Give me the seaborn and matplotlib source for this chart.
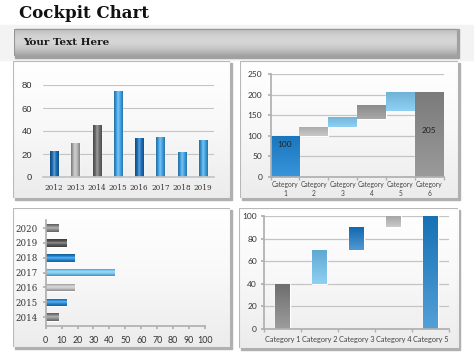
import numpy as np
import matplotlib
matplotlib.use("Agg")
import matplotlib.pyplot as plt
import seaborn as sns
from matplotlib.colors import LinearSegmentedColormap, to_rgb
from matplotlib.patches import Rectangle

# ---------------- data ----------------
years_top = ["2012", "2013", "2014", "2015", "2016", "2017", "2018", "2019"]
values_top = [23, 30, 45, 75, 34, 35, 22, 32]
colors_top = ["#1b6fb8", "#b8b8b8", "#6e6e6e", "#3fa7ea", "#1a72bf",
              "#3ea3e6", "#3ea3e6", "#3ea3e6"]

wf_categories = ["Category\n1", "Category\n2", "Category\n3",
                 "Category\n4", "Category\n5", "Category\n6"]
wf_bottom = [0, 100, 120, 140, 160, 0]
wf_top = [100, 120, 145, 175, 205, 205]
wf_colors = ["#1e86d6", "#c2c2c2", "#80caf4", "#9c9c9c", "#80caf4", "#8c8c8c"]
wf_label_text = ["100", "", "", "", "", "205"]
wf_label_y = [78, 0, 0, 0, 0, 112]

hb_years = ["2020", "2019", "2018", "2017", "2016", "2015", "2014"]
hb_values = [8, 13, 18, 43, 18, 13, 8]
hb_colors = ["#8c8c8c", "#5a5a5a", "#1e88d8", "#74c6f2", "#c4c4c4", "#1e88d8", "#8c8c8c"]

fl_categories = ["Category 1", "Category 2", "Category 3", "Category 4", "Category 5"]
fl_bottom = [0, 40, 70, 90, 0]
fl_top = [40, 70, 90, 100, 100]
fl_colors = ["#7c7c7c", "#6cc0f0", "#1676c6", "#b8b8b8", "#1a80cc"]

# ---------------- helpers ----------------
W, H = 474, 355


def box(x0, y0, x1, y1):
    return [x0 / W, 1 - y1 / H, (x1 - x0) / W, (y1 - y0) / H]


def mix(c, t, amt):
    c = np.array(to_rgb(c)); t = np.array(to_rgb(t))
    return tuple(c * (1 - amt) + t * amt)


def grad_patch(ax, patch, stops, along="y"):
    x0, y0 = patch.get_x(), patch.get_y()
    w, h = patch.get_width(), patch.get_height()
    cmap = LinearSegmentedColormap.from_list("g", stops)
    v = np.linspace(0, 1, 64)
    arr = v.reshape(-1, 1) if along == "y" else v.reshape(1, -1)
    im = ax.imshow(arr, cmap=cmap, extent=[x0, x0 + w, y0, y0 + h], origin="lower",
                   aspect="auto", interpolation="bilinear", zorder=patch.get_zorder() + 0.1)
    im.set_clip_path(patch)


def cylinder_stops(c):
    return [(0, mix(c, "black", 0.35)), (0.3, c), (0.45, mix(c, "white", 0.35)),
            (0.7, c), (1, mix(c, "black", 0.3))]


sns.set_theme(style="white")
plt.rcParams["font.family"] = ["Liberation Sans", "DejaVu Sans"]

fig = plt.figure(figsize=(4.74, 3.55), dpi=100, facecolor="white")

# header strip + title
fig.add_artist(Rectangle((0, 1 - 60 / H), 1, 35 / H, transform=fig.transFigure,
                         color="#f3f3f3", zorder=-5))
fig.text(19 / W, 1 - 14 / H, "Cockpit Chart", fontsize=12, fontweight="bold",
         family="DejaVu Serif", va="center", ha="left", color="#111111")

# banner
fig.add_artist(Rectangle((15 / W, 1 - 57.5 / H), 444 / W, 28 / H, transform=fig.transFigure,
                         color="#a0a0a0", zorder=-1))
bax = fig.add_axes(box(14, 29, 457, 56), zorder=0)
gb = LinearSegmentedColormap.from_list("b", ["#a2a2a2", "#c4c4c4", "#d6d6d6", "#d2d2d2", "#bdbdbd"])
bax.imshow(np.linspace(0, 1, 64).reshape(-1, 1), cmap=gb, aspect="auto", extent=[0, 1, 0, 1],
           origin="lower")
bax.set_xlim(0, 1); bax.set_ylim(0, 1); bax.axis("off")
bax.add_patch(Rectangle((0, 0), 1, 1, fill=False, edgecolor="#969696", lw=0.8,
                        transform=bax.transAxes))
bax.text(0.02, 0.5, "Your Text Here", fontsize=7.5, fontweight="bold", family="DejaVu Serif",
         va="center", ha="left", color="#1a1a1a")

# panels
panel_boxes = [(13, 61, 230, 198), (240, 61, 458, 198), (13, 208, 230, 347), (239, 208, 458, 348)]
gp = LinearSegmentedColormap.from_list("p", ["#ececec", "#f8f8f8", "#ffffff"])
for (x0, y0, x1, y1) in panel_boxes:
    fig.add_artist(Rectangle(((x0 + 2) / W, 1 - (y1 + 2) / H), (x1 - x0) / W, (y1 - y0) / H,
                             transform=fig.transFigure, color="#b0b0b0", zorder=-1))
    pax = fig.add_axes(box(x0, y0, x1, y1), zorder=0)
    pax.imshow(np.linspace(0, 1, 64).reshape(-1, 1), cmap=gp, aspect="auto",
               extent=[0, 1, 0, 1], origin="lower")
    pax.set_xlim(0, 1); pax.set_ylim(0, 1); pax.axis("off")
    pax.add_patch(Rectangle((0, 0), 1, 1, fill=False, edgecolor="#b8b8b8", lw=0.8,
                            transform=pax.transAxes))

grid_c = "#c4c4c4"
lab_c = "#333333"
cat_font = "Lato"

# ---------- top-left: cylinder columns ----------
ax1 = fig.add_axes(box(43.4, 85, 213.6, 177), zorder=1)
ax1.patch.set_alpha(0)
sns.barplot(x=years_top, y=values_top, hue=years_top, palette=colors_top, width=0.38,
            legend=False, ax=ax1, saturation=1, zorder=2)
for p, c in zip(ax1.patches, colors_top):
    grad_patch(ax1, p, cylinder_stops(c), along="x")
ax1.set_xlim(-0.5, len(years_top) - 0.5)
ax1.set_ylim(0, 80)
ax1.set_yticks([0, 20, 40, 60, 80])
ax1.yaxis.grid(True, color=grid_c, lw=0.8)
ax1.set_axisbelow(True)
for s in ["top", "right", "left"]:
    ax1.spines[s].set_visible(False)
ax1.spines["bottom"].set_color(grid_c)
ax1.tick_params(axis="y", length=0, pad=8, labelsize=6.8, labelcolor=lab_c)
ax1.tick_params(axis="x", length=0, pad=5, labelsize=5.2, labelcolor=lab_c)
for t in ax1.get_xticklabels():
    t.set_family("DejaVu Serif")
ax1.set_xlabel(""); ax1.set_ylabel("")

# ---------- top-right: waterfall ----------
ax2 = fig.add_axes(box(270.5, 74, 443.5, 176.7), zorder=1)
ax2.patch.set_alpha(0)
wf_heights = [t - b for t, b in zip(wf_top, wf_bottom)]
sns.barplot(x=wf_categories, y=wf_heights, hue=wf_categories, palette=wf_colors, width=1.0,
            legend=False, ax=ax2, saturation=1, zorder=2)
for p, b, c in zip(ax2.patches, wf_bottom, wf_colors):
    p.set_y(b)
    grad_patch(ax2, p, [mix(c, "white", 0.12), mix(c, "black", 0.12)], along="y")
for i, (txt, y) in enumerate(zip(wf_label_text, wf_label_y)):
    if txt:
        ax2.text(i, y, txt, ha="center", va="center", fontsize=6, color="#222222", zorder=5,
                 family=cat_font)
ax2.set_xlim(-0.5, len(wf_categories) - 0.5)
ax2.set_ylim(0, 250)
ax2.set_yticks(range(0, 251, 50))
ax2.yaxis.grid(True, color=grid_c, lw=0.9)
ax2.set_axisbelow(True)
for s in ["top", "right"]:
    ax2.spines[s].set_visible(False)
ax2.spines["left"].set_color("#b0b0b0")
ax2.spines["bottom"].set_color("#b0b0b0")
ax2.set_xticks(np.arange(-0.5, len(wf_categories), 1.0), minor=True)
ax2.tick_params(axis="x", which="minor", length=2.5, color="#b0b0b0", bottom=True)
ax2.tick_params(axis="x", which="major", length=0, pad=3, labelsize=4.8, labelcolor="#444444")
ax2.tick_params(axis="y", length=2, color="#b0b0b0", left=True, pad=4, labelsize=6,
                labelcolor=lab_c)
for t in ax2.get_xticklabels():
    t.set_linespacing(1.4)
    t.set_family(cat_font)
for t in ax2.get_yticklabels():
    t.set_family(cat_font)
ax2.set_xlabel(""); ax2.set_ylabel("")

# ---------- bottom-left: horizontal cylinders ----------
ax3 = fig.add_axes(box(45.7, 220, 205, 326), zorder=1)
ax3.patch.set_alpha(0)
sns.barplot(y=hb_years, x=hb_values, hue=hb_years, palette=hb_colors, width=0.5, orient="h",
            legend=False, ax=ax3, saturation=1, zorder=2)
for p, c in zip(ax3.patches, hb_colors):
    grad_patch(ax3, p, cylinder_stops(c), along="y")
ax3.set_xlim(0, 100)
ax3.set_xticks(range(0, 101, 10))
ax3.set_ylim(len(hb_years) - 0.4, -0.55)
for s in ["top", "right"]:
    ax3.spines[s].set_visible(False)
ax3.spines["left"].set_color("#b0b0b0")
ax3.spines["bottom"].set_color("#b0b0b0")
ax3.tick_params(axis="x", length=2, color="#b0b0b0", bottom=True, pad=5, labelsize=6.4,
                labelcolor=lab_c)
ax3.tick_params(axis="y", length=2, color="#b0b0b0", left=True, pad=4, labelsize=6.2,
                labelcolor=lab_c)
for t in ax3.get_yticklabels():
    t.set_family("DejaVu Serif")
for t in ax3.get_xticklabels():
    t.set_family(cat_font)
ax3.set_xlabel(""); ax3.set_ylabel("")

# ---------- bottom-right: floating bars ----------
ax4 = fig.add_axes(box(264, 216, 449, 329), zorder=1)
ax4.patch.set_alpha(0)
fl_heights = [t - b for t, b in zip(fl_top, fl_bottom)]
sns.barplot(x=fl_categories, y=fl_heights, hue=fl_categories, palette=fl_colors, width=0.4,
            legend=False, ax=ax4, saturation=1, zorder=2)
for p, b, c in zip(ax4.patches, fl_bottom, fl_colors):
    p.set_y(b)
    grad_patch(ax4, p, [mix(c, "white", 0.25), mix(c, "black", 0.12)], along="y")
ax4.set_xlim(-0.5, len(fl_categories) - 0.5)
ax4.set_ylim(0, 100)
ax4.set_yticks(range(0, 101, 20))
ax4.yaxis.grid(True, color=grid_c, lw=0.9)
ax4.set_axisbelow(True)
for s in ["top", "right"]:
    ax4.spines[s].set_visible(False)
ax4.spines["left"].set_color("#b0b0b0")
ax4.spines["bottom"].set_color("#b0b0b0")
ax4.set_xticks(np.arange(-0.5, len(fl_categories), 1.0), minor=True)
ax4.tick_params(axis="x", which="minor", length=2.5, color="#b0b0b0", bottom=True)
ax4.tick_params(axis="x", which="major", length=0, pad=5, labelsize=5.3, labelcolor="#444444")
ax4.tick_params(axis="y", length=2, color="#b0b0b0", left=True, pad=3, labelsize=6,
                labelcolor=lab_c)
for t in ax4.get_xticklabels() + ax4.get_yticklabels():
    t.set_family(cat_font)
ax4.set_xlabel(""); ax4.set_ylabel("")

fig.savefig("out.png", dpi=100, facecolor="white")
